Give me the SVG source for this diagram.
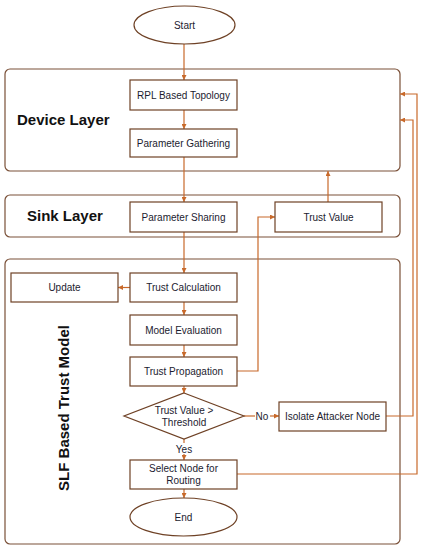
<svg xmlns="http://www.w3.org/2000/svg" width="422" height="550" viewBox="0 0 422 550">
<style>
.box{fill:#fff;stroke:#6e4125;stroke-width:1.2}
.layer{fill:#fff;stroke:#7a5038;stroke-width:1.2}
.t{font-family:"Liberation Sans",Arial,sans-serif;font-size:10px;fill:#1c1c30;text-anchor:middle}
.h{font-family:"Liberation Sans",Arial,sans-serif;font-size:15px;font-weight:bold;fill:#111}
.c{fill:none;stroke:#c8692a;stroke-width:1.2}
</style>
<defs>
<marker id="a" viewBox="0 0 6 6" refX="6" refY="3" markerWidth="5" markerHeight="5" orient="auto" markerUnits="userSpaceOnUse"><path d="M0,0L6,3L0,6z" fill="#c8692a"/></marker>
</defs>
<rect width="422" height="550" fill="#fff"/>
<g id="device-layer"><rect class="layer" x="5" y="69" width="395" height="102" rx="5"/><text class="h" x="17" y="125">Device Layer</text></g>
<g id="sink-layer"><rect class="layer" x="5" y="195" width="395" height="42" rx="5"/><text class="h" x="27" y="221">Sink Layer</text></g>
<g id="slf-layer"><rect class="layer" x="5" y="259" width="395" height="285" rx="5"/><text class="h" transform="translate(69,408) rotate(-90)" text-anchor="middle">SLF Based Trust Model</text></g>
<g id="connectors">
<line class="c" x1="184" y1="44" x2="184" y2="80" marker-end="url(#a)"/>
<line class="c" x1="184" y1="110" x2="184" y2="129" marker-end="url(#a)"/>
<line class="c" x1="184" y1="157" x2="184" y2="202" marker-end="url(#a)"/>
<line class="c" x1="184" y1="232" x2="184" y2="273" marker-end="url(#a)"/>
<line class="c" x1="130" y1="287.5" x2="118" y2="287.5" marker-end="url(#a)"/>
<line class="c" x1="184" y1="302" x2="184" y2="315" marker-end="url(#a)"/>
<line class="c" x1="184" y1="345" x2="184" y2="357" marker-end="url(#a)"/>
<line class="c" x1="184" y1="386" x2="184" y2="393" marker-end="url(#a)"/>
<line class="c" x1="184" y1="439" x2="184" y2="443"/>
<line class="c" x1="184" y1="454" x2="184" y2="460" marker-end="url(#a)"/>
<line class="c" x1="184" y1="489" x2="184" y2="498" marker-end="url(#a)"/>
<line class="c" x1="328" y1="202" x2="328" y2="171" marker-end="url(#a)"/>
<polyline class="c" points="237,371 258,371 258,217 275,217" marker-end="url(#a)"/>
<line class="c" x1="244" y1="416" x2="255" y2="416"/>
<line class="c" x1="270" y1="416" x2="279" y2="416" marker-end="url(#a)"/>
<polyline class="c" points="386,416 413,416 413,120 400,120" marker-end="url(#a)"/>
<polyline class="c" points="237,474 417,474 417,94 400,94" marker-end="url(#a)"/>
<text class="t" x="262" y="419.5">No</text>
<text class="t" x="184" y="452.5">Yes</text>
</g>
<g id="start"><ellipse class="box" cx="184.5" cy="25" rx="50.5" ry="19"/><text class="t" x="184.5" y="28.5">Start</text></g>
<g id="rpl"><rect class="box" x="130" y="80" width="107" height="30"/><text class="t" x="183.5" y="98.5">RPL Based Topology</text></g>
<g id="gathering"><rect class="box" x="130" y="129" width="107" height="28"/><text class="t" x="183.5" y="146.5">Parameter Gathering</text></g>
<g id="sharing"><rect class="box" x="130" y="202" width="107" height="30"/><text class="t" x="183.5" y="220.5">Parameter Sharing</text></g>
<g id="trust-value"><rect class="box" x="275" y="202" width="107" height="30"/><text class="t" x="328.5" y="220.5">Trust Value</text></g>
<g id="update"><rect class="box" x="11" y="273" width="107" height="29"/><text class="t" x="64.5" y="291">Update</text></g>
<g id="calc"><rect class="box" x="130" y="273" width="107" height="29"/><text class="t" x="183.5" y="291">Trust Calculation</text></g>
<g id="eval"><rect class="box" x="130" y="315" width="107" height="30"/><text class="t" x="183.5" y="333.5">Model Evaluation</text></g>
<g id="prop"><rect class="box" x="130" y="357" width="107" height="29"/><text class="t" x="183.5" y="375">Trust Propagation</text></g>
<g id="decision"><polygon class="box" points="184,393 244,416 184,439 124,416"/><text class="t" x="184" y="414">Trust Value &gt;</text><text class="t" x="184" y="426">Threshold</text></g>
<g id="isolate"><rect class="box" x="279" y="402" width="107" height="29"/><text class="t" x="332.5" y="420">Isolate Attacker Node</text></g>
<g id="select"><rect class="box" x="130" y="460" width="107" height="29"/><text class="t" x="183.5" y="472">Select Node for</text><text class="t" x="183.5" y="484">Routing</text></g>
<g id="end"><ellipse class="box" cx="183.5" cy="517" rx="53.5" ry="19"/><text class="t" x="183.5" y="520.5">End</text></g>
</svg>
